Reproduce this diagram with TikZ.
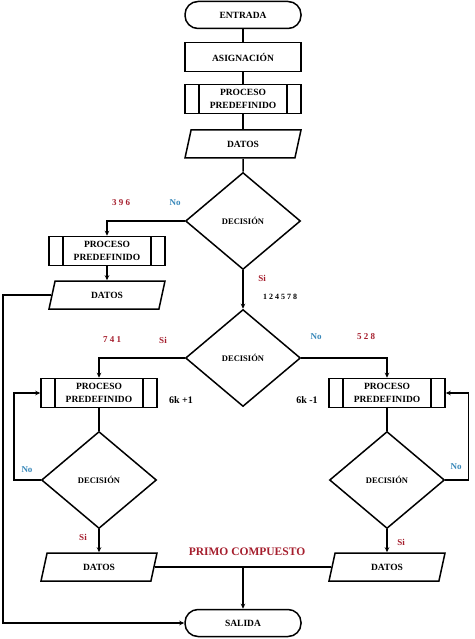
\documentclass[tikz,border=0pt]{standalone}
\usepackage{fontspec}
\setmainfont{Liberation Serif}
\usetikzlibrary{shapes.geometric,arrows.meta}
\definecolor{sired}{RGB}{165,30,45}
\definecolor{noblue}{RGB}{55,135,185}
\begin{document}
\begin{tikzpicture}[x=1pt, y=-1pt, line width=1.5pt, >={Stealth[length=5pt,width=4.5pt]},
    every node/.style={font=\bfseries},
    txt/.style={font=\fontsize{9.5}{12.5}\selectfont\bfseries, align=center},
    terminal/.style={txt, draw, rectangle, rounded corners=13pt, minimum width=116pt, minimum height=27pt},
    asig/.style={txt, draw, rectangle, minimum width=116pt, minimum height=29pt},
    predef/.style={txt, draw, rectangle, minimum width=116pt, minimum height=29pt, inner sep=1pt,
      path picture={\draw ([xshift=14pt]path picture bounding box.north west) -- ([xshift=14pt]path picture bounding box.south west);
        \draw ([xshift=-14pt]path picture bounding box.north east) -- ([xshift=-14pt]path picture bounding box.south east);}},
    datos/.style={txt, draw, trapezium, trapezium left angle=54, trapezium right angle=126,
      trapezium stretches body, minimum width=116pt, minimum height=28pt, inner sep=1pt},
    decision/.style={font=\fontsize{8.5}{10}\selectfont\bfseries, draw, diamond, minimum width=115pt, minimum height=97pt, inner sep=0pt},
    rojo/.style={text=sired, font=\fontsize{9}{10}\selectfont\bfseries},
    azul/.style={text=noblue, font=\fontsize{9}{10}\selectfont\bfseries}]
  \useasboundingbox (0,0) rectangle (474,639);
  % main column
  \node[terminal] (entrada) at (243,15) {ENTRADA};
  \node[asig] (asig) at (243,57) {ASIGNACIÓN};
  \node[predef] (proc1) at (243,99) {PROCESO\\PREDEFINIDO};
  \node[datos] (datos1) at (243,144) {DATOS};
  \node[decision] (dec1) at (243,221) {DECISIÓN};
  \node[decision] (dec2) at (243,358) {DECISIÓN};
  \node[terminal] (salida) at (243,623) {SALIDA};
  % left branch of first decision
  \node[predef] (proc2) at (107,251) {PROCESO\\PREDEFINIDO};
  \node[datos] (datos2) at (107,295) {DATOS};
  \coordinate (borde) at (3,0);
  % 6k+1 and 6k-1 branches
  \node[predef] (proc3) at (99,393) {PROCESO\\PREDEFINIDO};
  \node[predef] (proc4) at (387,393) {PROCESO\\PREDEFINIDO};
  \node[decision] (dec3) at (99,480) {DECISIÓN};
  \node[decision] (dec4) at (387,480) {DECISIÓN};
  \node[datos] (datos3) at (99,567) {DATOS};
  \node[datos] (datos4) at (387,567) {DATOS};
  % connectors
  \draw (entrada) -- (asig);
  \draw (asig) -- (proc1);
  \draw (proc1) -- (datos1);
  \draw (datos1) -- (dec1);
  \draw[->] (dec1.west) -| (proc2.north);
  \draw[->] (proc2) -- (datos2);
  \draw[->] (datos2.west) -- (datos2.west -| borde) |- (salida.west);
  \draw[->] (dec1) -- (dec2);
  \draw[->] (dec2.west) -| (proc3.north);
  \draw[->] (dec2.east) -| (proc4.north);
  \draw (proc3) -- (dec3);
  \draw (proc4) -- (dec4);
  \draw[->] (dec3.west) -- ++(-27,0) |- (proc3.west);
  \draw[->] (dec4.east) -- ++(23,0) |- (proc4.east);
  \draw[->] (dec3) -- (datos3);
  \draw[->] (dec4) -- (datos4);
  \draw (datos3.east) -- (datos4.west);
  \draw[->] (datos3.east -| salida.north) -- (salida.north);
  % labels
  \node[rojo] (n396) at (121,203) {3 9 6};
  \node[azul] (no1) at (175,203) {No};
  \node[rojo] (si1) at (262,278) {Si};
  \node[font=\fontsize{8}{10}\selectfont\bfseries] (n124) at (280,297) {1 2 4 5 7 8};
  \node[rojo] (n741) at (112,340) {7 4 1};
  \node[rojo] (si2) at (163,340) {Si};
  \node[azul] (no2) at (316,337) {No};
  \node[rojo] (n528) at (366,337) {5 2 8};
  \node[font=\fontsize{10}{12}\selectfont\bfseries] (mas) at (181,400) {6k +1};
  \node[font=\fontsize{10}{12}\selectfont\bfseries] (menos) at (307,400) {6k -1};
  \node[azul] (no3) at (27,470) {No};
  \node[azul] (no4) at (456,467) {No};
  \node[rojo] (si3) at (83,537) {Si};
  \node[rojo] (si4) at (401,542) {Si};
  \node[text=sired, font=\fontsize{11.5}{13}\selectfont\bfseries] (primo) at (247,552) {PRIMO COMPUESTO};
\end{tikzpicture}
\end{document}
